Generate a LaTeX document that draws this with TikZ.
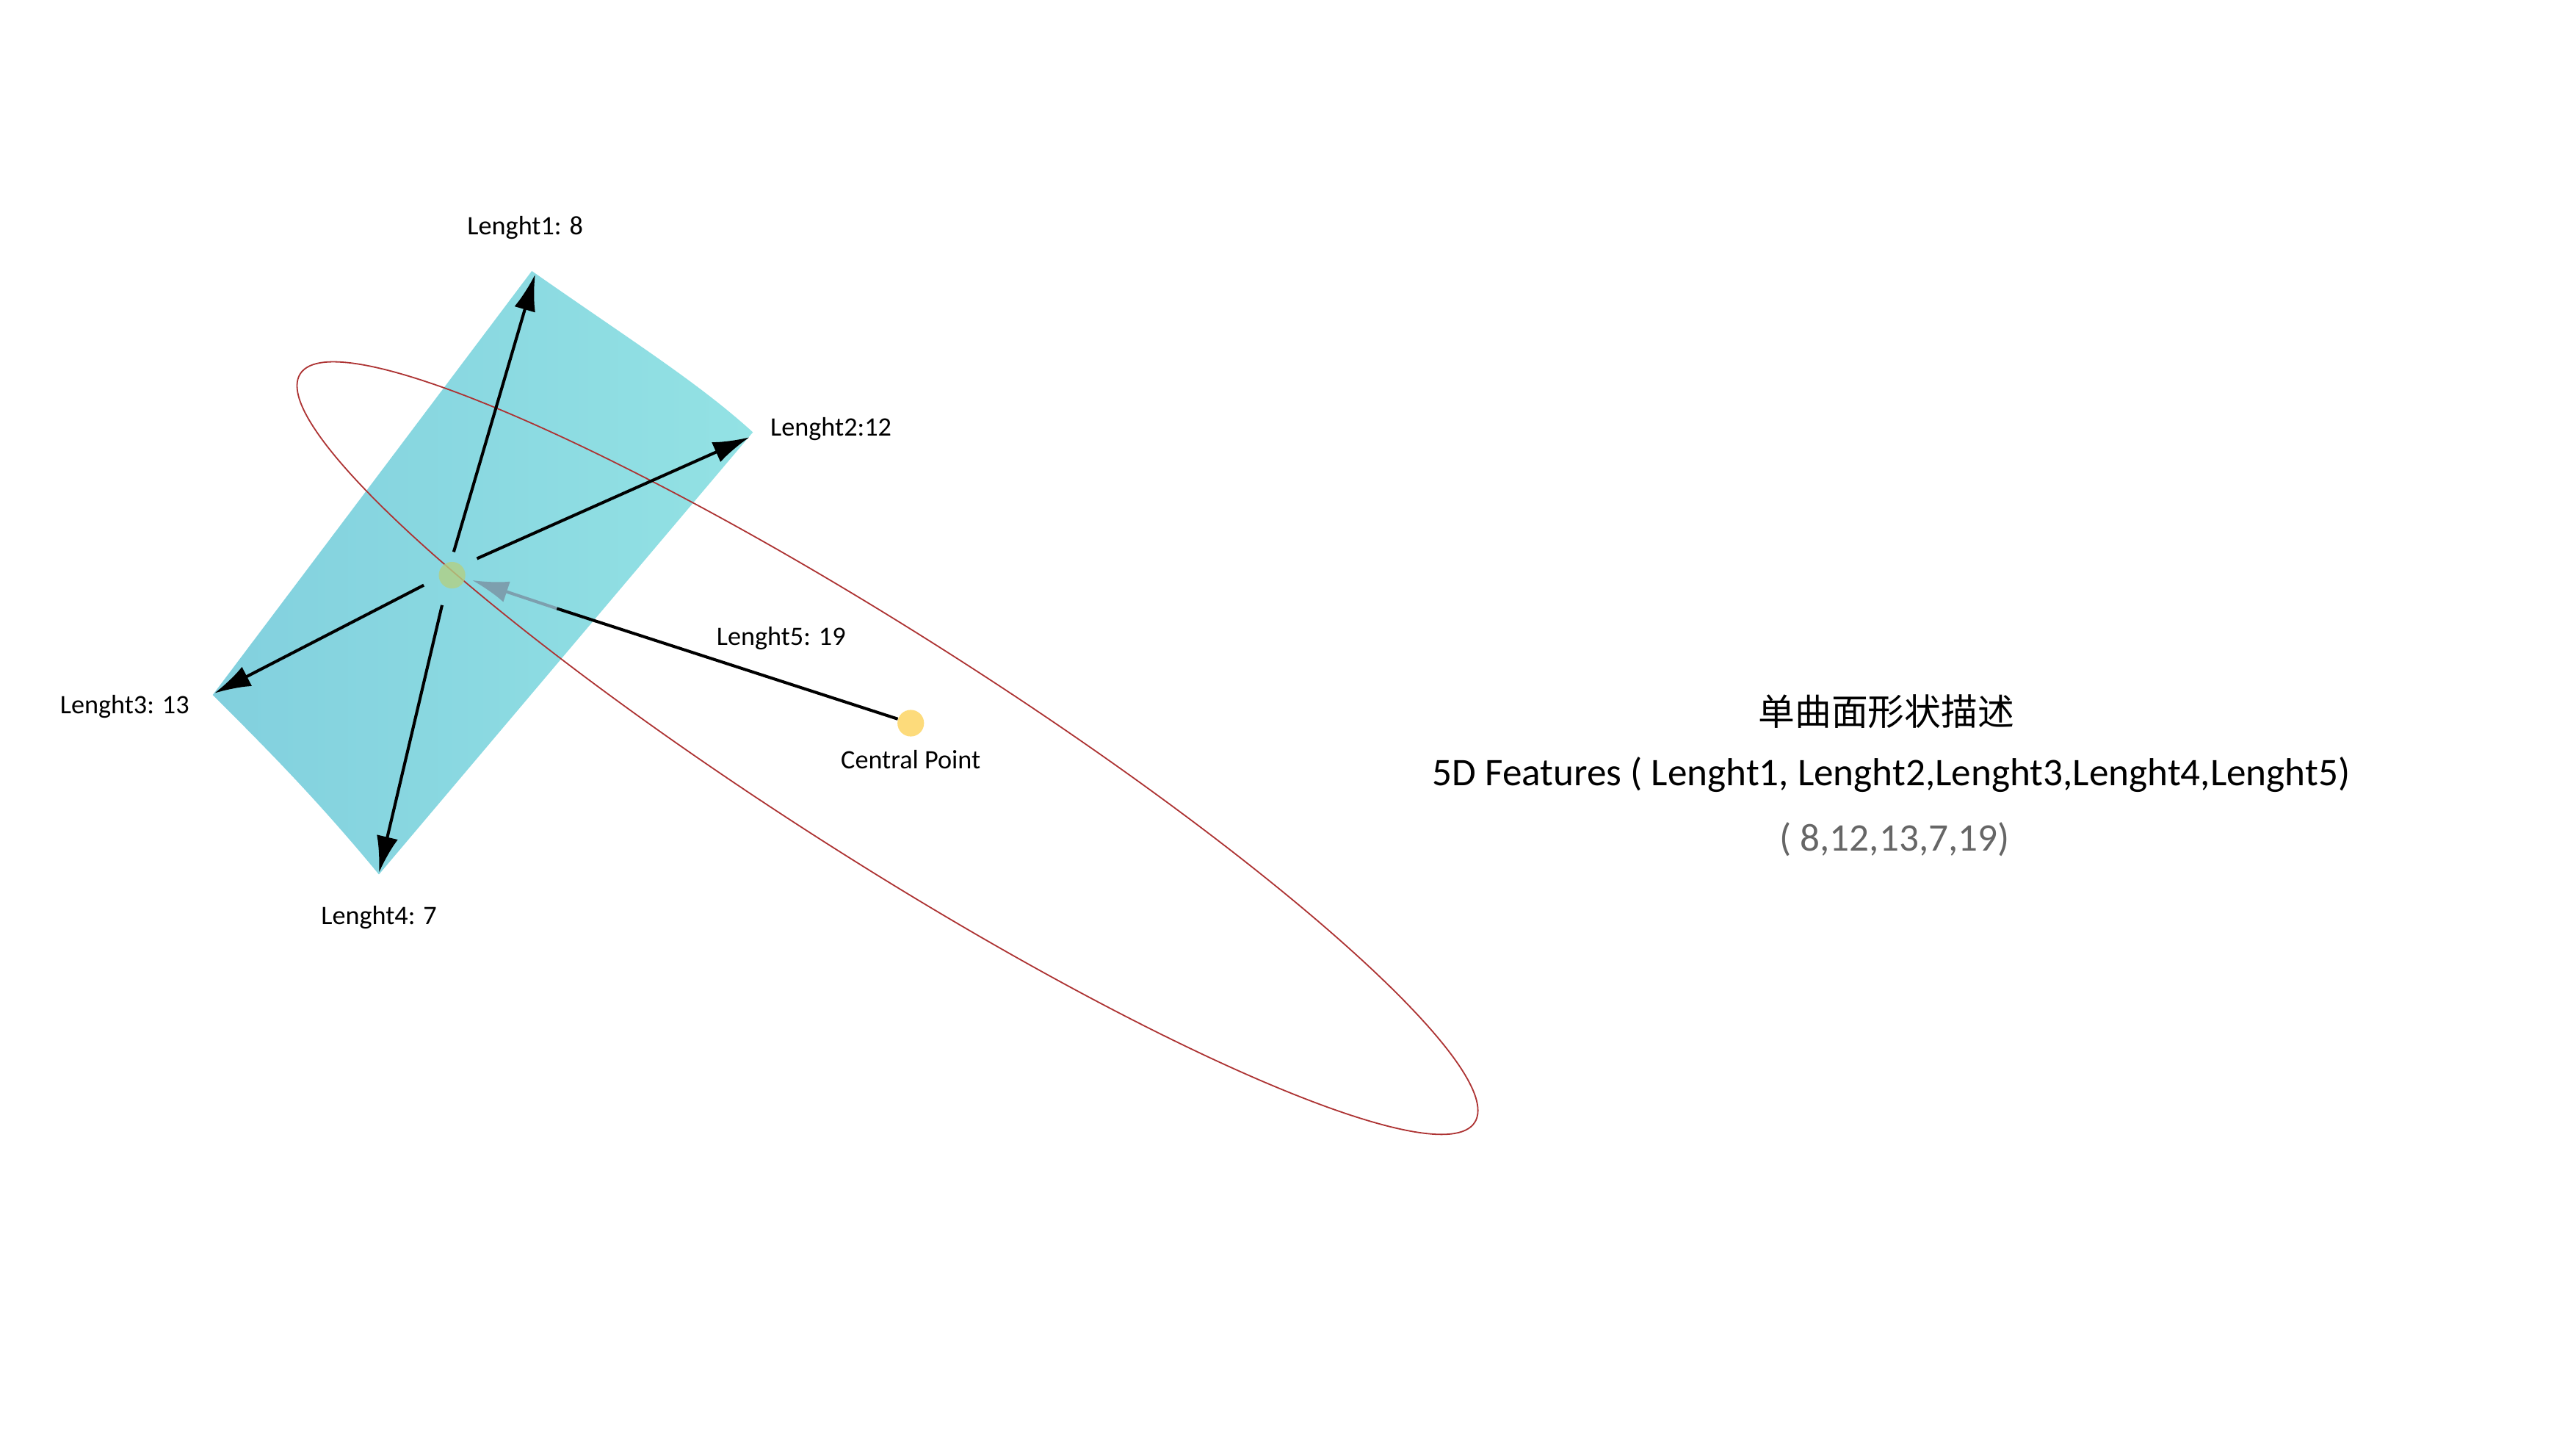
\documentclass[tikz,border=0pt]{standalone}
\usepackage{fontspec}
\setmainfont{Carlito}
\newfontfamily\cjk{Noto Sans CJK SC}
\usetikzlibrary{arrows.meta}
\definecolor{cyA}{HTML}{82D0DE}
\definecolor{cyB}{HTML}{93E2E4}
\begin{document}
\begin{tikzpicture}[x=1pt,y=-1pt,
  lab/.style={font=\fontsize{16}{19}\selectfont},
  big/.style={font=\fontsize{23.5}{28}\selectfont},
  vec/.style={line width=1.8pt,-{Latex[length=22pt,width=13pt]}}]
\useasboundingbox (0,0) rectangle (1550,872);
\shade[left color=cyA, right color=cyB, draw=none]
  (320,163) .. controls (380,205) and (420,230) .. (453,260)
  -- (228,526) .. controls (190,480) and (160,450) .. (128,418) -- cycle;
\draw[red!60!black!80, line width=0.8pt, rotate around={-32.5:(534,450)}] (534,450) ellipse (419 and 68);
\coordinate (c) at (272,346);
\coordinate (t1) at (322,165);
\coordinate (t2) at (451,263);
\coordinate (t3) at (129,417);
\coordinate (t4) at (228,525);
\node[circle, fill=yellow!50!orange!50, inner sep=0pt, minimum size=16pt] (cp) at (548,435) {};
\draw[vec] (273,332) -- (t1);
\draw[vec] (287,336) -- (t2);
\draw[vec] (255,352) -- (t3);
\draw[vec] (266,364) -- (t4);
\draw[line width=1.8pt, black] (cp) -- (335,366);
\draw[line width=1.8pt, cyan!30!gray, -{Latex[length=22pt,width=13pt]}] (335,366) -- (284,349);
\node[circle, fill=olive!50!green!45, opacity=0.8, inner sep=0pt, minimum size=16pt] (cn) at (c) {};
\node[lab] (l1) at (316,137) {Lenght1: 8};
\node[lab] (l2) at (500,258) {Lenght2:12};
\node[lab] (l3) at (75,425) {Lenght3: 13};
\node[lab] (l4) at (228,552) {Lenght4: 7};
\node[lab] (l5) at (470,384) {Lenght5: 19};
\node[lab] (lc) at (548,457) {Central Point};
\node[font=\cjk\fontsize{22}{26}\selectfont] (z) at (1135,428) {单曲面形状描述};
\node[big] (f) at (1138,466) {5D Features ( Lenght1, Lenght2,Lenght3,Lenght4,Lenght5)};
\node[big, text=black!60] (v) at (1140,505) {( 8,12,13,7,19)};
\end{tikzpicture}
\end{document}
